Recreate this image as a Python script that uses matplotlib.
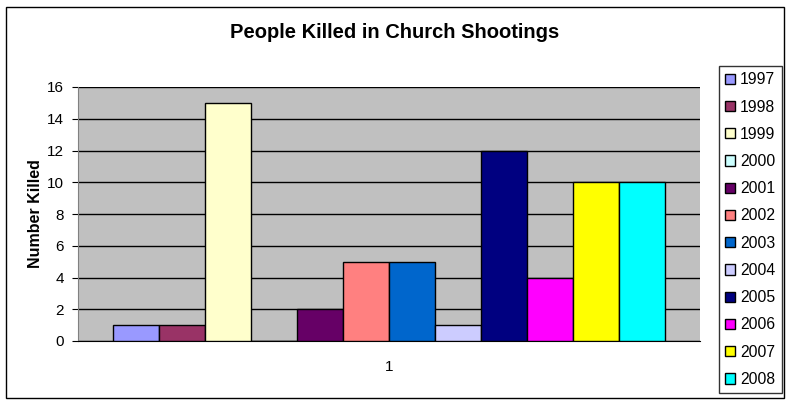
import matplotlib
matplotlib.use('Agg')
import matplotlib.pyplot as plt
from matplotlib.patches import Rectangle

years = ['1997', '1998', '1999', '2000', '2001', '2002',
         '2003', '2004', '2005', '2006', '2007', '2008']
killed = [1, 1, 15, 0, 2, 5, 5, 1, 12, 4, 10, 10]
colors = ['#9999FF', '#993366', '#FFFFCC', '#CCFFFF', '#660066', '#FF8080',
          '#0066CC', '#CCCCFF', '#000080', '#FF00FF', '#FFFF00', '#00FFFF']
category = ['1']

plt.rcParams['font.family'] = ['Liberation Sans', 'DejaVu Sans']

W, H = 793, 405
fig = plt.figure(figsize=(W / 100, H / 100), dpi=100)

# outer chart border
fig.patches.append(Rectangle((6 / W, 1 - 398 / H), 778 / W, 391 / H,
                             transform=fig.transFigure, fill=False,
                             edgecolor='black', linewidth=1))

# plot area
ax = fig.add_axes([78 / W, 1 - 341 / H, 622 / W, 254 / H])
ax.set_facecolor('#C0C0C0')

gap = 1.5  # excel gap width 150%
n = len(years)
w = 1.0 / (n + gap)
for i, (yr, v, c) in enumerate(zip(years, killed, colors)):
    x = -0.5 + (gap / 2 + i + 0.5) * w
    ax.bar(x, v, width=w, color=c, edgecolor='black', linewidth=1,
           label=yr, zorder=3)

ax.set_xlim(-0.5, 0.5)
ax.set_ylim(0, 16)
ax.set_yticks(range(0, 17, 2))
ax.set_xticks([0])
ax.set_xticklabels(category)
ax.yaxis.grid(True, color='black', linewidth=1, zorder=1)
ax.set_axisbelow(True)
for s in ['top', 'right']:
    ax.spines[s].set_visible(False)
ax.spines['left'].set_color('#808080')
ax.spines['bottom'].set_color('black')
ax.tick_params(axis='y', length=4, labelsize=11, color='black', pad=6)
ax.tick_params(axis='x', length=0, labelsize=11, pad=14)
ax.set_ylabel('Number Killed', fontsize=11.5, fontweight='bold', labelpad=3)

fig.text(395 / W, 1 - 32 / H, 'People Killed in Church Shootings',
         ha='center', va='center', fontsize=14.5, fontweight='bold')

leg = fig.legend(loc='upper left', bbox_to_anchor=(719 / W, 1 - 66 / H),
                 frameon=True, fancybox=False, edgecolor='black',
                 fontsize=11.3, handlelength=0.64, handleheight=0.64,
                 handletextpad=0.3, labelspacing=0.78, borderpad=0.4,
                 borderaxespad=0)
leg.get_frame().set_linewidth(1)

fig.savefig('out.png', dpi=100)
